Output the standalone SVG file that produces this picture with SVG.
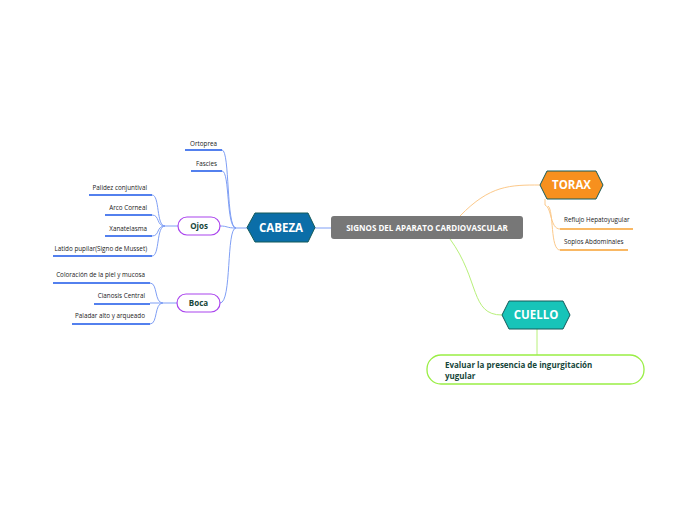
<svg xmlns="http://www.w3.org/2000/svg" width="697" height="520" viewBox="0 0 697 520">
<style>
text{font-family:"Open Sans","Noto Sans","Liberation Sans",sans-serif}
.leaf{font-size:6.3px;fill:#222}
.ul{stroke:#1a56e8;stroke-width:1.5}
.ulo{stroke:#f7a030;stroke-width:1.5}
.bl{fill:none;stroke:#7f9ff5;stroke-width:1}
.hex{font-size:11.5px;font-weight:bold;fill:#fff;text-anchor:middle}
.sub{font-size:8px;font-weight:bold;fill:#16463a;text-anchor:middle}
</style>
<rect width="697" height="520" fill="#fff"/>
<g id="connectors">
<path class="bl" d="M315,228 H331"/>
<path class="bl" d="M247,228 H236 C226,228 230,150 222,150"/>
<path class="bl" d="M236,228 C226,228 230,171 222,171"/>
<path class="bl" d="M236,228 C226,228 228,226 220,226"/>
<path class="bl" d="M236,228 C226,228 232,303 220,303"/>
<path class="bl" d="M178,226 H165 C156,226 160,195 152,195"/>
<path class="bl" d="M165,226 C156,226 160,215 152,215"/>
<path class="bl" d="M165,226 C156,226 160,236 152,236"/>
<path class="bl" d="M165,226 C156,226 160,256 152,256"/>
<path class="bl" d="M177,303 H163 C154,303 158,283 150,283"/>
<path class="bl" d="M163,303 H150"/>
<path class="bl" d="M163,303 C154,303 158,324 150,324"/>
<path fill="none" stroke="#fcc98a" stroke-width="1" d="M460,216 C490,185 510,185 540,185"/>
<path fill="none" stroke="#fcc98a" stroke-width="1" d="M545,199 V205 C552,208 550,229 560,229 M548,206 C554,210 550,250 560,250"/>
<path fill="none" stroke="#b8f07a" stroke-width="1" d="M450,239 C480,280 470,315 502,315"/>
<path fill="none" stroke="#b8f07a" stroke-width="1" d="M537,329 V355"/>
</g>
<g id="center">
<rect x="331" y="216" width="192" height="23" rx="3" fill="#777"/>
<text x="427" y="231" font-size="8px" font-weight="bold" fill="#fff" text-anchor="middle">SIGNOS DEL APARATO CARDIOVASCULAR</text>
</g>
<g id="cabeza">
<polygon points="247,227.5 255,213 308,213 315,227.5 308,242 255,242" fill="#0b6ea8" stroke="#145a5a" stroke-width="1"/>
<text class="hex" x="281" y="232">CABEZA</text>
</g>
<g id="torax">
<polygon points="540,185 547,171 596,171 603,185 596,199 547,199" fill="#f7901e" stroke="#145a5a" stroke-width="1"/>
<text class="hex" x="571.5" y="189">TORAX</text>
</g>
<g id="cuello">
<polygon points="502,315 509,301 563,301 570,315 563,329 509,329" fill="#17c4b9" stroke="#145a5a" stroke-width="1"/>
<text class="hex" x="536" y="319">CUELLO</text>
</g>
<g id="evaluar">
<rect x="427" y="355" width="217" height="29" rx="14" fill="#fff" stroke="#99ee44" stroke-width="1.3"/>
<text x="445" y="368" font-size="8px" font-weight="bold" fill="#16463a">Evaluar la presencia de ingurgitación</text>
<text x="445" y="379" font-size="8px" font-weight="bold" fill="#16463a">yugular</text>
</g>
<g id="ojos">
<rect x="178" y="217" width="42" height="18" rx="9" fill="#fff" stroke="#aa44ee" stroke-width="1.2"/>
<text class="sub" x="199" y="229">Ojos</text>
</g>
<g id="boca">
<rect x="177" y="294" width="43" height="18" rx="9" fill="#fff" stroke="#aa44ee" stroke-width="1.2"/>
<text class="sub" x="198.5" y="306">Boca</text>
</g>
<g id="ortoprea"><text class="leaf" x="217" y="146" text-anchor="end">Ortoprea</text><line class="ul" x1="185" y1="150" x2="222" y2="150"/></g>
<g id="fascies"><text class="leaf" x="217" y="166" text-anchor="end">Fascies</text><line class="ul" x1="191" y1="171" x2="222" y2="171"/></g>
<g id="palidez"><text class="leaf" x="147" y="190" text-anchor="end">Palidez conjuntival</text><line class="ul" x1="89" y1="195" x2="152" y2="195"/></g>
<g id="arco"><text class="leaf" x="147" y="210" text-anchor="end">Arco Corneal</text><line class="ul" x1="105" y1="215" x2="152" y2="215"/></g>
<g id="xanatelasma"><text class="leaf" x="147" y="231" text-anchor="end">Xanatelasma</text><line class="ul" x1="105" y1="236" x2="152" y2="236"/></g>
<g id="latido"><text class="leaf" x="147" y="251" text-anchor="end">Latido pupilar(Signo de Musset)</text><line class="ul" x1="53" y1="256" x2="152" y2="256"/></g>
<g id="coloracion"><text class="leaf" x="145" y="277" text-anchor="end">Coloración de la piel y mucosa</text><line class="ul" x1="53" y1="283" x2="150" y2="283"/></g>
<g id="cianosis"><text class="leaf" x="145" y="298" text-anchor="end">Cianosis Central</text><line class="ul" x1="94" y1="304" x2="150" y2="304"/></g>
<g id="paladar"><text class="leaf" x="145" y="318" text-anchor="end">Paladar alto y arqueado</text><line class="ul" x1="72" y1="324" x2="150" y2="324"/></g>
<g id="reflujo"><text class="leaf" x="564" y="222">Reflujo Hepatoyugular</text><line class="ulo" x1="560" y1="229" x2="633" y2="229"/></g>
<g id="soplos"><text class="leaf" x="564" y="244">Soplos Abdominales</text><line class="ulo" x1="560" y1="250" x2="628" y2="250"/></g>
</svg>
